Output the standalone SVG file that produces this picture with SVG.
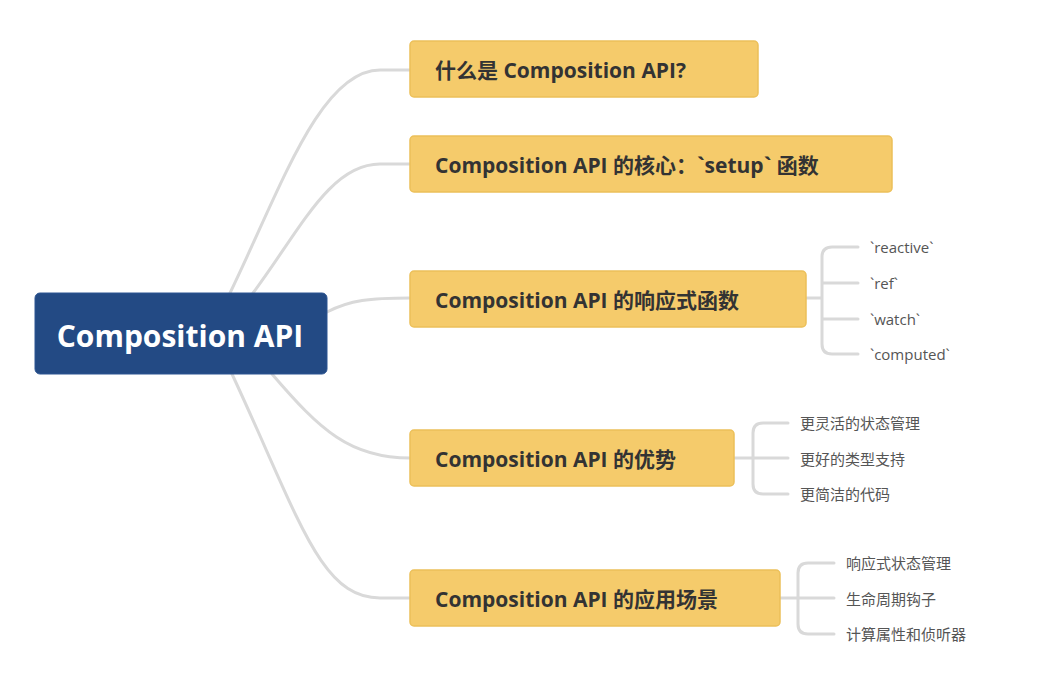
<svg xmlns="http://www.w3.org/2000/svg" width="1041" height="680" viewBox="0 0 1041 680">
<style>
.c{fill:none;stroke:#d9d9d9;stroke-width:3;stroke-linecap:round}
.b{fill:#f5cb6b;stroke:#ecc05a;stroke-width:1.5}
.bt{font-family:"Open Sans","Noto Sans CJK SC",sans-serif;font-weight:bold;font-size:21px;fill:#333;dominant-baseline:central}
.lt{font-family:"Open Sans","Noto Sans CJK SC",sans-serif;font-size:15px;fill:#555;dominant-baseline:central}
</style>
<rect width="1041" height="680" fill="#fff"/>
<g id="connectors">
<path class="c" d="M230 293 C280 190 320 70 380 70 L410 70"/>
<path class="c" d="M253 293 C300 230 330 164 380 164 L410 164"/>
<path class="c" d="M327 312 C350 300 370 298 410 298"/>
<path class="c" d="M272 374 C320 430 350 458 410 458"/>
<path class="c" d="M232 374 C300 520 320 598 380 598 L410 598"/>
<path class="c" d="M806 298 H822 M858 247 H832 Q822 247 822 257 V344 Q822 354 832 354 H858 M822 283 H858 M822 319 H858"/>
<path class="c" d="M734 458 H753 M788 423 H763 Q753 423 753 433 V484 Q753 494 763 494 H788 M753 458 H788"/>
<path class="c" d="M780 598 H798 M834 563 H808 Q798 563 798 573 V624 Q798 634 808 634 H834 M798 598 H834"/>
</g>
<g id="root">
<rect x="35" y="293" width="292" height="81" rx="5" fill="#234a84" stroke="#2d5592"/>
<text x="180" y="335" text-anchor="middle" font-family="Open Sans, sans-serif" font-weight="bold" font-size="30" fill="#fff" dominant-baseline="central">Composition API</text>
</g>
<g id="b1"><rect class="b" x="410" y="41" width="348" height="56" rx="4"/><text class="bt" x="435" y="70">什么是 Composition API?</text></g>
<g id="b2"><rect class="b" x="410" y="136" width="482" height="56" rx="4"/><text class="bt" x="435" y="165">Composition API 的核心：`setup` 函数</text></g>
<g id="b3"><rect class="b" x="410" y="271" width="396" height="56" rx="4"/><text class="bt" x="435" y="300">Composition API 的响应式函数</text></g>
<g id="b4"><rect class="b" x="410" y="430" width="324" height="56" rx="4"/><text class="bt" x="435" y="459">Composition API 的优势</text></g>
<g id="b5"><rect class="b" x="410" y="570" width="370" height="56" rx="4"/><text class="bt" x="435" y="599">Composition API 的应用场景</text></g>
<g id="leaves">
<text class="lt" x="870" y="247">`reactive`</text>
<text class="lt" x="870" y="283">`ref`</text>
<text class="lt" x="870" y="319">`watch`</text>
<text class="lt" x="870" y="354">`computed`</text>
<text class="lt" x="800" y="423">更灵活的状态管理</text>
<text class="lt" x="800" y="459">更好的类型支持</text>
<text class="lt" x="800" y="494">更简洁的代码</text>
<text class="lt" x="846" y="563">响应式状态管理</text>
<text class="lt" x="846" y="599">生命周期钩子</text>
<text class="lt" x="846" y="634">计算属性和侦听器</text>
</g>
</svg>
